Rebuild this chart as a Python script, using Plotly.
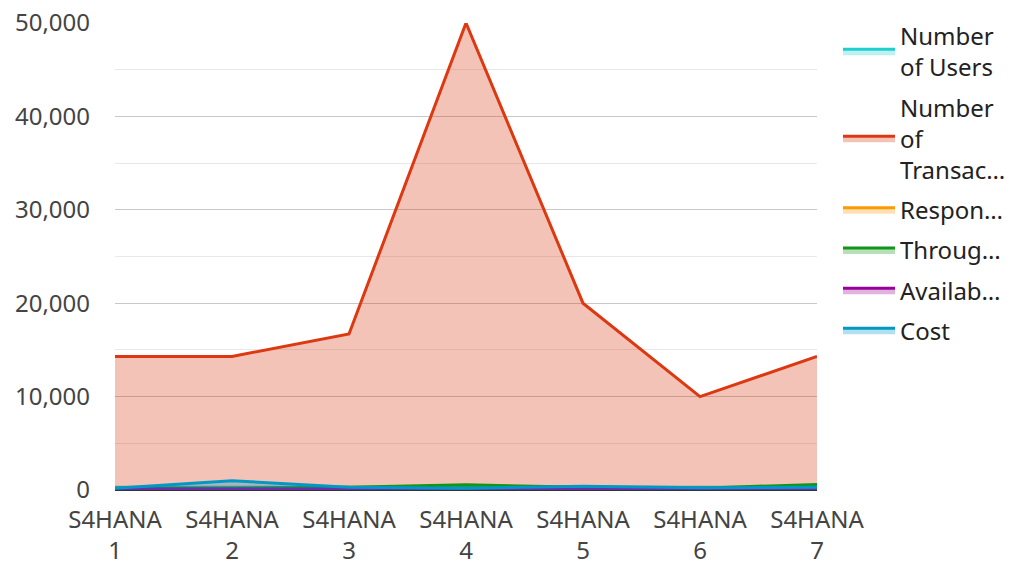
import plotly.graph_objects as go

categories = ["S4HANA 1", "S4HANA 2", "S4HANA 3", "S4HANA 4", "S4HANA 5", "S4HANA 6", "S4HANA 7"]
series_names = ["Number of Users", "Number of Transactions", "Response Time", "Throughput", "Availability", "Cost"]
legend_labels = ["Number<br>of Users", "Number<br>of<br>Transac…", "Respon…", "Throug…", "Availab…", "Cost"]
users = [300, 300, 300, 300, 250, 250, 300]
transactions = [14300, 14300, 16700, 50000, 20000, 10000, 14300]
response = [50, 50, 40, 60, 50, 40, 50]
throughput = [200, 200, 300, 550, 300, 200, 600]
availability = [100, 100, 100, 100, 100, 100, 100]
cost = [200, 1000, 300, 200, 400, 250, 300]
y_ticks = [0, 10000, 20000, 30000, 40000, 50000]

line_colors = ["#1fcfcf", "#dc3912", "#ff9900", "#109618", "#990099", "#0099c6"]
fill_colors = ["rgba(31,207,207,0.3)", "rgba(220,57,18,0.3)", "rgba(255,153,0,0.3)",
               "rgba(16,150,24,0.3)", "rgba(153,0,153,0.3)", "rgba(0,153,198,0.3)"]

all_values = [users, transactions, response, throughput, availability, cost]
x_idx = list(range(len(categories)))
tick_text = [c.replace(" ", "<br>") for c in categories]

fig = go.Figure()
for i, (name, lab, vals, lc, fc) in enumerate(zip(series_names, legend_labels, all_values, line_colors, fill_colors)):
    fig.add_trace(go.Scatter(
        x=x_idx, y=vals, name=lab, mode="lines", legendgroup=f"g{i}",
        line=dict(color=lc, width=3), fill="tozeroy", fillcolor=fc,
        hovertext=[name] * len(vals),
    ))

# page body has an 8px default margin; figure sized to fill the rest of the window
font_family = "Noto Sans"
fig.update_layout(
    width=1004, height=554,
    margin=dict(l=107, r=195, t=15, b=72),
    paper_bgcolor="white", plot_bgcolor="white",
    font=dict(family=font_family, size=24, color="#444444"),
    showlegend=True,
    legend=dict(xref="container", x=0.8267, y=1.02, xanchor="left", yanchor="top",
                font=dict(size=24, color="#222222"), tracegroupgap=6,
                itemwidth=52, maxheight=540, borderwidth=0, bgcolor="rgba(0,0,0,0)"),
    xaxis=dict(range=[0, len(categories) - 1], tickvals=x_idx, ticktext=tick_text,
               showgrid=False, zeroline=False, showline=False, ticks="",
               automargin=False, ticklabelstandoff=13, ticklabeloverflow="allow",
               tickfont=dict(size=24, color="#444444")),
    yaxis=dict(range=[0, 50000], tickvals=y_ticks, tickformat=",d",
               showgrid=True, gridcolor="#c8c8c8", gridwidth=1,
               zeroline=True, zerolinecolor="#333333", zerolinewidth=1,
               minor=dict(dtick=5000, showgrid=True, gridcolor="#e8e8e8", gridwidth=1),
               ticks="", automargin=False, ticklabelstandoff=24, ticklabeloverflow="allow",
               tickfont=dict(size=24, color="#444444")),
)

fig.write_html("out.html")
